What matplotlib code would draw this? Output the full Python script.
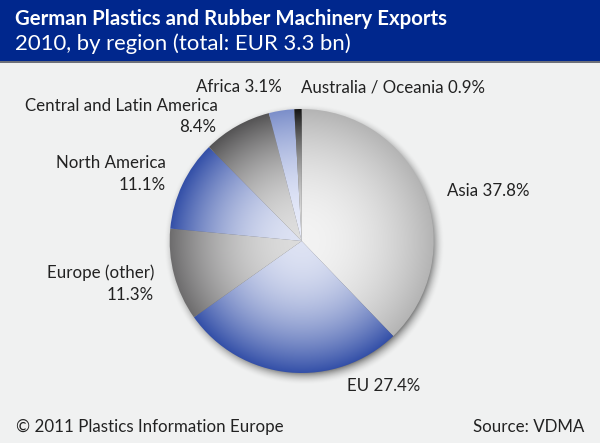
import numpy as np
import matplotlib
matplotlib.use('Agg')
import matplotlib.pyplot as plt
from matplotlib.colors import LinearSegmentedColormap

plt.rcParams['font.family'] = ['Lato', 'DejaVu Sans']

regions = ['Asia', 'EU', 'Europe (other)', 'North America',
           'Central and Latin America', 'Africa', 'Australia / Oceania']
shares = [37.8, 27.4, 11.3, 11.1, 8.4, 3.1, 0.9]
center_colors = ['#f3f3f3', '#dde2f3', '#dcdcdc', '#dde2f3', '#dedede', '#e8ecfa', '#e0e0e0']
edge_colors = ['#b4b4b4', '#3450a8', '#6e6d6e', '#3450a8', '#555455', '#7c8fca', '#151515']

W, H = 600, 443
cx, cy, rad = 301.7, 241, 132
bg = '#f0f1f1'
header = '#00278d'
ink = '#222222'

fig = plt.figure(figsize=(6, 4.43), dpi=100, facecolor=bg)
page = fig.add_axes([0, 0, 1, 1])
page.set_xlim(0, W)
page.set_ylim(H, 0)
page.axis('off')

# header band
page.fill_between([0, W], 0, 61, color=header, lw=0)
page.fill_between([0, W], 61, 63, color='#6d7079', lw=0)
page.text(15, 19, 'German Plastics and Rubber Machinery Exports', color='white',
          fontsize=14.65, fontweight='bold', va='center')
page.text(15, 44, '2010, by region (total: EUR 3.3 bn)', color='white',
          fontsize=15.9, va='center')

# soft shadow, a bit low and right of the pie
yy, xx = np.mgrid[0:H, 0:W]
d = np.hypot(xx - (cx + 2), yy - (cy + 3))
alpha = np.clip((rad + 9 - d) / 14, 0, 1) ** 2 * 0.55
shadow = np.zeros((H, W, 4))
shadow[..., 3] = alpha
page.imshow(shadow, extent=[0, W, H, 0], aspect='auto', zorder=1)
page.set_xlim(0, W)
page.set_ylim(H, 0)

# pie in its own axes, each wedge filled with a radial gradient
ax = fig.add_axes([(cx - rad - 1) / W, 1 - (cy + rad + 1) / H,
                   (2 * rad + 2) / W, (2 * rad + 2) / H])
ax.patch.set_alpha(0)
wedges, _ = ax.pie(shares, startangle=90, counterclock=False, radius=1,
                   colors=['none'] * len(shares))
lim = (rad + 1) / rad
g = np.linspace(-lim, lim, 600)
gx, gy = np.meshgrid(g, g)
r = np.hypot(gx, gy)
for w, c0, c1 in zip(wedges, center_colors, edge_colors):
    cmap = LinearSegmentedColormap.from_list('grad', [c0, c1])
    im = ax.imshow(r ** 2, cmap=cmap, vmin=0, vmax=1, extent=[-lim, lim, -lim, lim],
                   origin='lower', interpolation='bilinear')
    im.set_clip_path(w)
ax.set_xlim(-lim, lim)
ax.set_ylim(-lim, lim)

# labels
fs = 12.2
page.text(447, 191, f'{regions[0]} {shares[0]}%', fontsize=fs, color=ink, va='center')
page.text(347, 386, f'{regions[1]} {shares[1]}%', fontsize=fs, color=ink, va='center')
page.text(154, 273, regions[2], fontsize=fs, color=ink, va='center', ha='right')
page.text(154, 295, f'{shares[2]}%', fontsize=fs, color=ink, va='center', ha='right')
page.text(166, 163, regions[3], fontsize=fs, color=ink, va='center', ha='right')
page.text(166, 185, f'{shares[3]}%', fontsize=fs, color=ink, va='center', ha='right')
page.text(218, 106, regions[4], fontsize=fs, color=ink, va='center', ha='right')
page.text(216, 127, f'{shares[4]}%', fontsize=fs, color=ink, va='center', ha='right')
page.text(196, 87, f'{regions[5]} {shares[5]}%', fontsize=fs, color=ink, va='center')
page.text(301, 87, f'{regions[6]} {shares[6]}%', fontsize=fs, color=ink, va='center')

# footer
page.text(16, 427, '© 2011 Plastics Information Europe', fontsize=fs, color=ink, va='center')
page.text(584, 427, 'Source: VDMA', fontsize=fs, color=ink, va='center', ha='right')

fig.savefig('out.png', dpi=100, facecolor=bg)
